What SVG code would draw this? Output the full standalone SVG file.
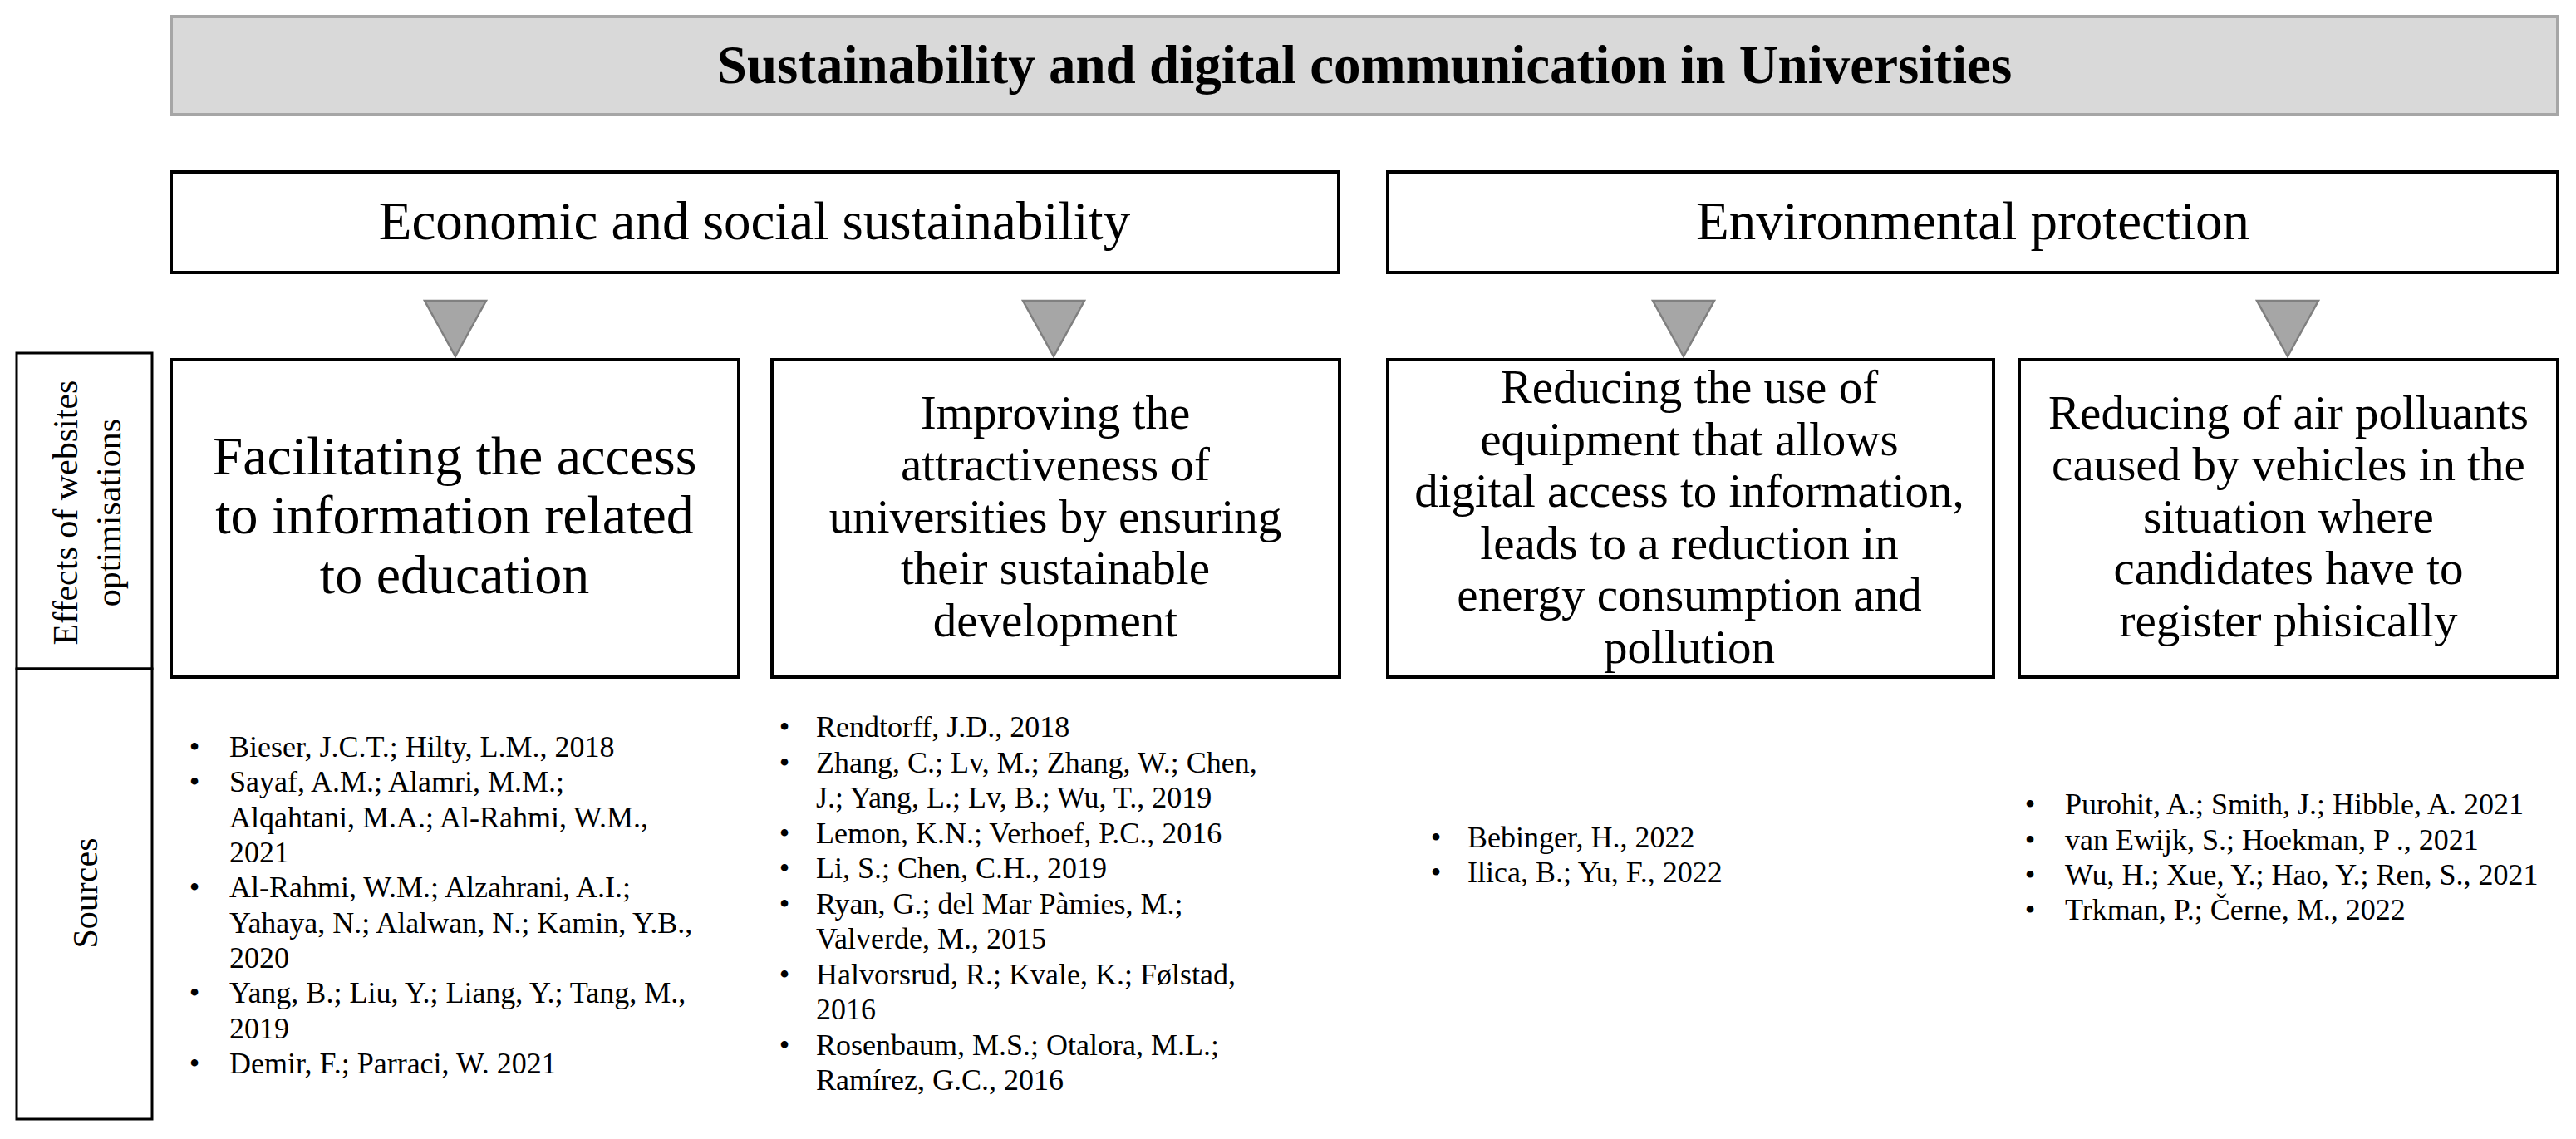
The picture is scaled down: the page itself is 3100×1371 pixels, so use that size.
<svg xmlns="http://www.w3.org/2000/svg" width="3100" height="1371" viewBox="0 0 3100 1371">
<style>
.t{font-family:"Liberation Serif","Times New Roman",serif;fill:#000}
.box{fill:#fff;stroke:#000;stroke-width:4}
.title{fill:#d9d9d9;stroke:#a6a6a6;stroke-width:4}
.side{fill:#fff;stroke:#000;stroke-width:3}
.tri{fill:#a6a6a6;stroke:#808080;stroke-width:2.5;stroke-linejoin:miter}
.head{font-size:65px;font-weight:bold;text-anchor:middle}
.cat{font-size:65px;text-anchor:middle}
.eff1{font-size:66px;text-anchor:middle}
.eff{font-size:57px;text-anchor:middle}
.lab{font-size:42px;text-anchor:middle}
.src{font-size:36px}
.bul{font-size:36px;text-anchor:middle}
</style>
<rect width="3100" height="1371" fill="#fff"/>
<g id="title">
<rect class="title" x="206" y="20" width="2872" height="118"/>
<text class="t head" x="1642" y="100">Sustainability and digital communication in Universities</text>
</g>
<g id="cat-economic">
<rect class="box" x="206" y="207" width="1405" height="121"/>
<text class="t cat" x="908" y="288">Economic and social sustainability</text>
</g>
<g id="cat-environment">
<rect class="box" x="1670" y="207" width="1408" height="121"/>
<text class="t cat" x="2374" y="288">Environmental protection</text>
</g>
<g id="side-labels">
<rect class="side" x="20" y="425" width="163" height="380"/>
<rect class="side" x="20" y="805" width="163" height="542"/>
<text class="t lab" transform="translate(93,617) rotate(-90)">Effects of websites</text>
<text class="t lab" transform="translate(145,617) rotate(-90)">optimisations</text>
<text class="t lab" transform="translate(117,1075) rotate(-90)">Sources</text>
</g>
<g id="connectors">
<polygon class="tri" points="511,362 585,362 548,429"/>
<polygon class="tri" points="1231,362 1305,362 1268,429"/>
<polygon class="tri" points="1989,362 2063,362 2026,429"/>
<polygon class="tri" points="2716,362 2790,362 2753,429"/>
</g>
<g id="effect-1">
<rect class="box" x="206" y="433" width="683" height="382"/>
<text class="t eff1" x="547" y="571">Facilitating the access</text>
<text class="t eff1" x="547" y="642">to information related</text>
<text class="t eff1" x="547" y="714">to education</text>
</g>
<g id="effect-2">
<rect class="box" x="929" y="433" width="683" height="382"/>
<text class="t eff" x="1270" y="516">Improving the</text>
<text class="t eff" x="1270" y="578">attractiveness of</text>
<text class="t eff" x="1270" y="641">universities by ensuring</text>
<text class="t eff" x="1270" y="703">their sustainable</text>
<text class="t eff" x="1270" y="766">development</text>
</g>
<g id="effect-3">
<rect class="box" x="1670" y="433" width="729" height="382"/>
<text class="t eff" x="2033" y="485">Reducing the use of</text>
<text class="t eff" x="2033" y="548">equipment that allows</text>
<text class="t eff" x="2033" y="610">digital access to information,</text>
<text class="t eff" x="2033" y="673">leads to a reduction in</text>
<text class="t eff" x="2033" y="735">energy consumption and</text>
<text class="t eff" x="2033" y="798">pollution</text>
</g>
<g id="effect-4">
<rect class="box" x="2430" y="433" width="648" height="382"/>
<text class="t eff" x="2754" y="516">Reducing of air polluants</text>
<text class="t eff" x="2754" y="578">caused by vehicles in the</text>
<text class="t eff" x="2754" y="641">situation where</text>
<text class="t eff" x="2754" y="703">candidates have to</text>
<text class="t eff" x="2754" y="766">register phisically</text>
</g>
<g id="sources-1">
<text class="t bul" x="234" y="911">•</text>
<text class="t bul" x="234" y="953">•</text>
<text class="t bul" x="234" y="1080">•</text>
<text class="t bul" x="234" y="1207">•</text>
<text class="t bul" x="234" y="1292">•</text>
<text class="t src" x="276" y="911">Bieser, J.C.T.; Hilty, L.M., 2018</text>
<text class="t src" x="276" y="953">Sayaf, A.M.; Alamri, M.M.;</text>
<text class="t src" x="276" y="996">Alqahtani, M.A.; Al-Rahmi, W.M.,</text>
<text class="t src" x="276" y="1038">2021</text>
<text class="t src" x="276" y="1080">Al-Rahmi, W.M.; Alzahrani, A.I.;</text>
<text class="t src" x="276" y="1123">Yahaya, N.; Alalwan, N.; Kamin, Y.B.,</text>
<text class="t src" x="276" y="1165">2020</text>
<text class="t src" x="276" y="1207">Yang, B.; Liu, Y.; Liang, Y.; Tang, M.,</text>
<text class="t src" x="276" y="1250">2019</text>
<text class="t src" x="276" y="1292">Demir, F.; Parraci, W. 2021</text>
</g>
<g id="sources-2">
<text class="t bul" x="944" y="887">•</text>
<text class="t bul" x="944" y="930">•</text>
<text class="t bul" x="944" y="1015">•</text>
<text class="t bul" x="944" y="1057">•</text>
<text class="t bul" x="944" y="1100">•</text>
<text class="t bul" x="944" y="1185">•</text>
<text class="t bul" x="944" y="1270">•</text>
<text class="t src" x="982" y="887">Rendtorff, J.D., 2018</text>
<text class="t src" x="982" y="930">Zhang, C.; Lv, M.; Zhang, W.; Chen,</text>
<text class="t src" x="982" y="972">J.; Yang, L.; Lv, B.; Wu, T., 2019</text>
<text class="t src" x="982" y="1015">Lemon, K.N.; Verhoef, P.C., 2016</text>
<text class="t src" x="982" y="1057">Li, S.; Chen, C.H., 2019</text>
<text class="t src" x="982" y="1100">Ryan, G.; del Mar Pàmies, M.;</text>
<text class="t src" x="982" y="1142">Valverde, M., 2015</text>
<text class="t src" x="982" y="1185">Halvorsrud, R.; Kvale, K.; Følstad,</text>
<text class="t src" x="982" y="1227">2016</text>
<text class="t src" x="982" y="1270">Rosenbaum, M.S.; Otalora, M.L.;</text>
<text class="t src" x="982" y="1312">Ramírez, G.C., 2016</text>
</g>
<g id="sources-3">
<text class="t bul" x="1728" y="1020">•</text>
<text class="t bul" x="1728" y="1062">•</text>
<text class="t src" x="1766" y="1020">Bebinger, H., 2022</text>
<text class="t src" x="1766" y="1062">Ilica, B.; Yu, F., 2022</text>
</g>
<g id="sources-4">
<text class="t bul" x="2443" y="980">•</text>
<text class="t bul" x="2443" y="1023">•</text>
<text class="t bul" x="2443" y="1065">•</text>
<text class="t bul" x="2443" y="1107">•</text>
<text class="t src" x="2485" y="980">Purohit, A.; Smith, J.; Hibble, A. 2021</text>
<text class="t src" x="2485" y="1023">van Ewijk, S.; Hoekman, P ., 2021</text>
<text class="t src" x="2485" y="1065">Wu, H.; Xue, Y.; Hao, Y.; Ren, S., 2021</text>
<text class="t src" x="2485" y="1107">Trkman, P.; Černe, M., 2022</text>
</g>
</svg>
